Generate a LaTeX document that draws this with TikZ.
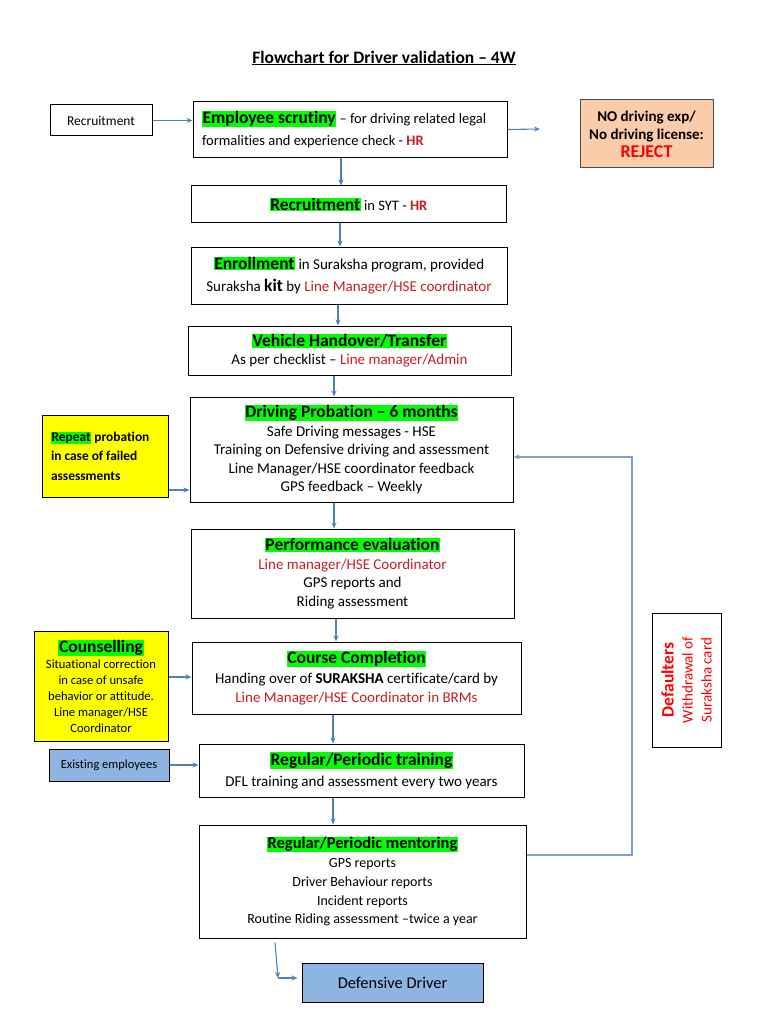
\documentclass[tikz,border=0pt]{standalone}
\usepackage{fontspec}
\setmainfont[Ligatures=NoCommon]{Carlito}
\usetikzlibrary{arrows.meta}
\definecolor{hlgreen}{RGB}{0,255,0}
\definecolor{txred}{RGB}{200,30,35}
\definecolor{arrblue}{RGB}{79,129,189}
\definecolor{peach}{RGB}{251,204,170}
\definecolor{lblue}{RGB}{141,180,226}
\definecolor{yel}{RGB}{255,255,0}
\newcommand\hd[1]{{\fontsize{17.5}{20}\selectfont\bfseries\setlength\fboxsep{0.6pt}\colorbox{hlgreen}{#1}}}
\newcommand\hdm[1]{{\fontsize{16.5}{19}\selectfont\bfseries\setlength\fboxsep{0.6pt}\colorbox{hlgreen}{#1}}}
\newcommand\rd[1]{\textcolor{txred}{#1}}
\tikzset{
  box/.style={draw=black, line width=1pt, align=center, inner sep=2pt, font=\fontsize{15}{18.5}\selectfont},
  arr/.style={draw=arrblue, line width=1.1pt, -{Stealth[length=6pt,width=5pt]}},
}
\begin{document}
\begin{tikzpicture}[x=1pt,y=-1pt]
\useasboundingbox[fill=white] (0,0) rectangle (768,1024);
\node (title) at (384,58) {\fontsize{17.5}{20}\selectfont\bfseries\underline{Flowchart for Driver validation – 4W}};

\node[box, minimum width=102pt, minimum height=31pt, font=\fontsize{13.5}{16}\selectfont] (rec1) at (101,120.5) {Recruitment};
\node[box, minimum width=314pt, minimum height=55pt, text width=296pt, align=flush left, inner sep=9pt, font=\fontsize{14.5}{22}\selectfont] (scrut) at (350,129.5)
  {\hd{Employee scrutiny} – for driving related legal\\ formalities and experience check - \rd{\bfseries HR}};
\node[box, fill=peach, draw=black!70, minimum width=133pt, minimum height=68pt, font=\fontsize{15}{18}\selectfont\bfseries] (reject) at (646.5,134)
  {NO driving exp/\\No driving license:\\\textcolor{red}{\fontsize{18}{21}\selectfont REJECT}};
\node[box, minimum width=315pt, minimum height=37pt, font=\fontsize{14.5}{18}\selectfont] (syt) at (348.5,204.5)
  {\hd{Recruitment} in SYT - \rd{\bfseries HR}};
\node[box, minimum width=316pt, minimum height=57pt, font=\fontsize{15}{22}\selectfont] (enroll) at (349,275.5)
  {\hd{Enrollment} in Suraksha program, provided\\ Suraksha {\fontsize{17.5}{20}\selectfont\bfseries kit} by \rd{Line Manager/HSE coordinator}};
\node[box, minimum width=323pt, minimum height=49pt] (vehicle) at (349.5,350.5)
  {\hd{Vehicle Handover/Transfer}\\ As per checklist – \rd{Line manager/Admin}};
\node[box, minimum width=323pt, minimum height=105pt] (prob) at (351.5,449.5)
  {\hd{Driving Probation – 6 months}\\ Safe Driving messages - HSE\\ Training on Defensive driving and assessment\\ Line Manager/HSE coordinator feedback\\ GPS feedback – Weekly};
\node[box, fill=yel, minimum width=126pt, minimum height=82pt, text width=108pt, align=flush left, inner sep=7pt, font=\fontsize{13.4}{19.5}\selectfont\bfseries] (repeat) at (105,456)
  {{\setlength\fboxsep{0.6pt}\colorbox{hlgreen}{Repeat}} probation\\ in case of failed\\ assessments};
\node[box, minimum width=323pt, minimum height=89pt] (perf) at (352.5,573.5)
  {\hd{Performance evaluation}\\ \rd{Line manager/HSE Coordinator}\\ GPS reports and\\ Riding assessment};
\node[box, fill=yel, minimum width=134pt, minimum height=110pt, font=\fontsize{12.6}{16}\selectfont] (couns) at (101,686)
  {\hd{Counselling}\\ Situational correction\\ in case of unsafe\\ behavior or attitude.\\ Line manager/HSE\\ Coordinator};
\node[box, minimum width=329pt, minimum height=72pt, font=\fontsize{15}{19.5}\selectfont] (course) at (356.5,678)
  {\hd{Course Completion}\\ Handing over of \textbf{SURAKSHA} certificate/card by\\ \rd{Line Manager/HSE Coordinator in BRMs}};
\node[box, fill=lblue, minimum width=120pt, minimum height=32pt, font=\fontsize{12.5}{15}\selectfont] (exist) at (109,765) {Existing employees};
\node[box, minimum width=325pt, minimum height=53pt, font=\fontsize{15}{21}\selectfont] (train) at (361.5,770.5)
  {\hd{Regular/Periodic training}\\ DFL training and assessment every two years};
\node[box, minimum width=327pt, minimum height=113pt, font=\fontsize{14}{18.8}\selectfont] (mentor) at (362.5,881.5)
  {\hdm{Regular/Periodic mentoring}\\ GPS reports\\ Driver Behaviour reports\\ Incident reports\\ Routine Riding assessment –twice a year};
\node[box, minimum width=69pt, minimum height=134pt] (defl) at (686.5,680) {};
\node[rotate=90, align=center, text=red, font=\fontsize{15}{19}\selectfont] (deflt) at (defl.center)
  {{\fontsize{17.5}{20}\selectfont\bfseries Defaulters}\\ Withdrawal of\\ Suraksha card};
\node[box, fill=lblue, minimum width=181pt, minimum height=39pt, font=\fontsize{16.4}{19}\selectfont] (dd) at (392.5,982.5) {Defensive Driver};

% connectors
\coordinate (rj) at (540,129);
\draw[arr] (rec1.east) -- (rec1.east -| scrut.west);
\draw[arr] (scrut.east) -- (rj);
\draw[arr] ([xshift=-9pt]scrut.south) -- ([xshift=-9pt]scrut.south |- syt.north);
\draw[arr] ([xshift=-8.5pt]syt.south) -- ([xshift=-8.5pt]syt.south |- enroll.north);
\draw[arr] ([xshift=-11pt]enroll.south) -- ([xshift=-11pt]enroll.south |- vehicle.north);
\draw[arr] ([xshift=-15.5pt]vehicle.south) -- ([xshift=-15.5pt]vehicle.south |- prob.north);
\draw[arr] ([yshift=-34pt]repeat.east) -- ([yshift=-34pt]repeat.east -| prob.west);
\draw[arr] ([xshift=-17.5pt]prob.south) -- ([xshift=-17.5pt]prob.south |- perf.north);
\draw[arr] ([xshift=-16.5pt]perf.south) -- ([xshift=-16.5pt]perf.south |- course.north);
\draw[arr] ([yshift=9pt]couns.east) -- ([yshift=9pt]couns.east -| course.west);
\draw[arr] ([xshift=-23.5pt]course.south) -- ([xshift=-23.5pt]course.south |- train.north);
\draw[arr] (exist.east) -- (exist.east -| train.west);
\draw[arr] ([xshift=-28.5pt]train.south) -- ([xshift=-28.5pt]train.south |- mentor.north);
\coordinate (lp1) at (632,855);
\coordinate (lp2) at (632,457);
\draw[arr, draw=arrblue!75] ([yshift=26.5pt]mentor.east) -- (lp1) -- (lp2) -- (lp2 -| prob.east);
\coordinate (dc) at (278,978);
\draw[arr] ([xshift=-87.5pt,yshift=-4pt]mentor.south) -- (dc);
\draw[arr, shorten >=4pt] (dc) -- (dc -| dd.west);
\end{tikzpicture}
\end{document}
